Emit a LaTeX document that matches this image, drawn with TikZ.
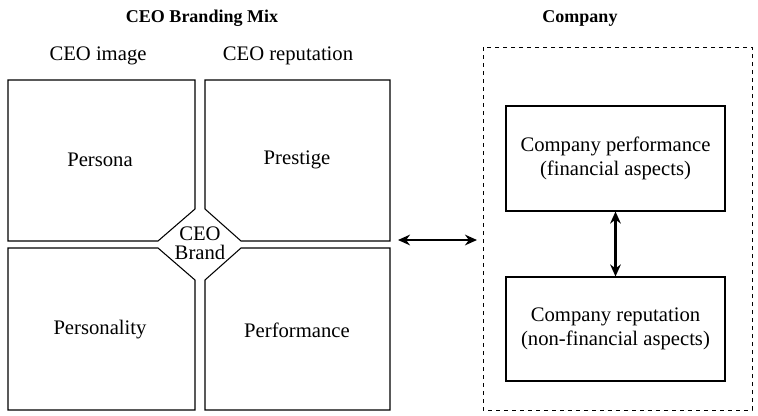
\documentclass[tikz,border=0pt]{standalone}
\usepackage{fontspec}
\setmainfont{Liberation Serif}
\usetikzlibrary{arrows.meta}
\begin{document}
\begin{tikzpicture}[x=0.75pt,y=-0.75pt,
  box/.style={draw,line width=0.8pt},
  lbl/.style={font=\fontsize{15.5}{18}\selectfont,align=center},
  ttl/.style={font=\fontsize{13.5}{15}\selectfont\bfseries},
  arr/.style={line width=1.6pt,{Stealth[length=9pt,width=8pt]}-{Stealth[length=9pt,width=8pt]}}]
\useasboundingbox (0,0) rectangle (758,415);
\draw[box] (8,80) -- (195,80) -- (195,209) -- (158,241) -- (8,241) -- cycle;
\draw[box] (205,80) -- (390,80) -- (390,241) -- (241,241) -- (205,209) -- cycle;
\draw[box] (8,248) -- (158,248) -- (195,280) -- (195,410) -- (8,410) -- cycle;
\draw[box] (241,248) -- (390,248) -- (390,410) -- (205,410) -- (205,280) -- cycle;
\node[ttl] (t1) at (202,18) {CEO Branding Mix};
\node[ttl] (t2) at (580,18) {Company};
\node[lbl] (ci) at (98,56) {CEO image};
\node[lbl] (cr) at (288,56) {CEO reputation};
\node[lbl] (p1) at (100,160) {Persona};
\node[lbl] (p2) at (297,160) {Prestige};
\node[lbl] (p3) at (100,330) {Personality};
\node[lbl] (p4) at (297,330) {Performance};
\node[lbl,inner sep=0pt] (cb) at (200,243) {CEO\\[-4pt]Brand};
\draw[dashed,line width=0.6pt] (483,47) rectangle (752,410);
\node[box,lbl,minimum width=219*0.75pt,minimum height=105*0.75pt] (cp) at (615.5,158.5) {Company performance\\(financial aspects)};
\node[box,lbl,minimum width=219*0.75pt,minimum height=104*0.75pt] (crp) at (615.5,329) {Company reputation\\(non-financial aspects)};
\draw[arr] (cp) -- (crp);
\coordinate (a1) at (398,240);
\coordinate (a2) at (477,240);
\draw[arr] (a1) -- (a2);
\end{tikzpicture}
\end{document}
